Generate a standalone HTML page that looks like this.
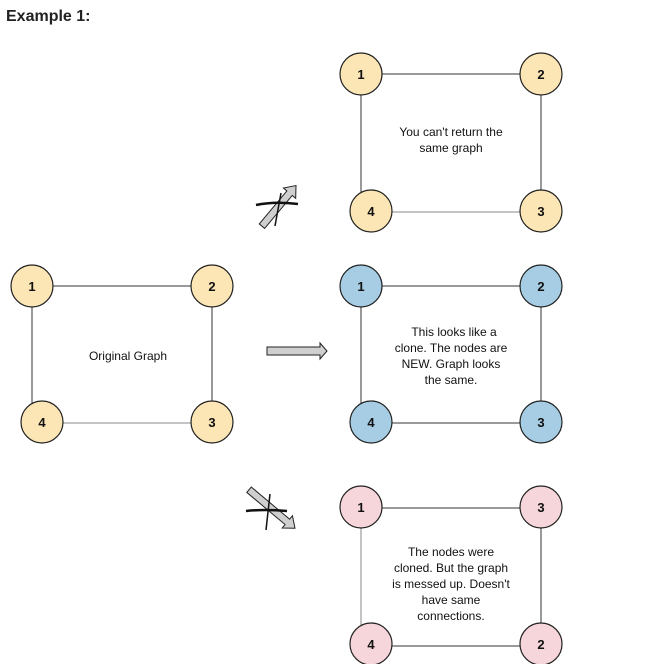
<!DOCTYPE html>
<html><head><meta charset="utf-8"><style>
html,body{margin:0;padding:0;background:#fff;width:665px;height:664px;overflow:hidden}
svg{display:block}
</style></head><body>
<svg width="665" height="664" viewBox="0 0 665 664" xmlns="http://www.w3.org/2000/svg" font-family="Liberation Sans, Arial, sans-serif">
<text x="6" y="21" font-size="16" font-weight="bold" fill="#222">Example 1:</text>
<g stroke="#333" stroke-width="1" fill="none">
<!-- top -->
<line x1="361" y1="74" x2="541" y2="74"/>
<line x1="361" y1="74" x2="361" y2="200"/>
<line x1="541" y1="74" x2="541" y2="211"/>
<line x1="371" y1="212" x2="541" y2="212" stroke="#888"/>
<!-- original -->
<line x1="32" y1="286" x2="212" y2="286"/>
<line x1="32" y1="286" x2="32" y2="410"/>
<line x1="212" y1="286" x2="212" y2="422"/>
<line x1="42" y1="423" x2="212" y2="423" stroke="#888"/>
<!-- middle -->
<line x1="361" y1="286" x2="541" y2="286"/>
<line x1="361" y1="286" x2="361" y2="410"/>
<line x1="541" y1="286" x2="541" y2="422"/>
<line x1="371" y1="423" x2="541" y2="423"/>
<!-- bottom -->
<line x1="361" y1="508" x2="541" y2="508"/>
<line x1="361" y1="508" x2="361" y2="630" stroke="#888"/>
<line x1="541" y1="508" x2="541" y2="644"/>
<line x1="371" y1="646" x2="541" y2="646"/>
</g>
<g stroke="#222" stroke-width="1.2" font-size="13" font-weight="bold" text-anchor="middle">
<g fill="#fde6b6">
<circle cx="361" cy="74" r="21"/><circle cx="541" cy="74" r="21"/>
<circle cx="371" cy="211" r="21"/><circle cx="541" cy="211" r="21"/>
<circle cx="32" cy="286" r="21"/><circle cx="212" cy="286" r="21"/>
<circle cx="42" cy="422" r="21"/><circle cx="212" cy="422" r="21"/>
</g>
<g fill="#a6cde4">
<circle cx="361" cy="286" r="21"/><circle cx="541" cy="286" r="21"/>
<circle cx="371" cy="422" r="21"/><circle cx="541" cy="422" r="21"/>
</g>
<g fill="#f6d6da">
<circle cx="361" cy="507" r="21"/><circle cx="541" cy="507" r="21"/>
<circle cx="371" cy="644" r="21"/><circle cx="541" cy="644" r="21"/>
</g>
</g>
<g font-size="13" font-weight="bold" text-anchor="middle" fill="#111">
<text x="361" y="79">1</text><text x="541" y="79">2</text>
<text x="371" y="216">4</text><text x="541" y="216">3</text>
<text x="32" y="291">1</text><text x="212" y="291">2</text>
<text x="42" y="427">4</text><text x="212" y="427">3</text>
<text x="361" y="291">1</text><text x="541" y="291">2</text>
<text x="371" y="427">4</text><text x="541" y="427">3</text>
<text x="361" y="512">1</text><text x="541" y="512">3</text>
<text x="371" y="649">4</text><text x="541" y="649">2</text>
</g>
<g font-size="12" text-anchor="middle" fill="#111">
<text x="451" y="136">You can't return the</text>
<text x="451" y="152">same graph</text>
<text x="128" y="360">Original Graph</text>
<text x="454" y="336">This looks like a</text>
<text x="451" y="352">clone. The nodes are</text>
<text x="451" y="368">NEW. Graph looks</text>
<text x="451" y="384">the same.</text>
<text x="451" y="556">The nodes were</text>
<text x="451" y="572">cloned. But the graph</text>
<text x="451" y="588">is messed up. Doesn't</text>
<text x="451" y="604">have same</text>
<text x="451" y="620">connections.</text>
</g>
<!-- middle arrow -->
<path d="M267,347 L320,347 L320,343 L327,351 L320,359 L320,355 L267,355 Z" fill="#cfcfcf" stroke="#222" stroke-width="1"/>
<!-- top crossed arrow -->
<g transform="translate(278,207) rotate(-50)">
<path d="M-25,-3.5 L18,-3.5 L18,-8 L28,0 L18,8 L18,3.5 L-25,3.5 Z" fill="#cfcfcf" stroke="#222" stroke-width="1"/>
</g>
<path d="M256,205 Q275,201 298,204" stroke="#111" stroke-width="2.5" fill="none"/>
<path d="M281,193 L275,226" stroke="#111" stroke-width="1.5" fill="none"/>
<!-- bottom crossed arrow -->
<g transform="translate(272,509) rotate(40)">
<path d="M-30,-3.5 L20,-3.5 L20,-8 L30,0 L20,8 L20,3.5 L-30,3.5 Z" fill="#cfcfcf" stroke="#222" stroke-width="1"/>
</g>
<path d="M246,511 Q265,509 287,511" stroke="#111" stroke-width="2.5" fill="none"/>
<path d="M270,494 L266,530" stroke="#111" stroke-width="1.5" fill="none"/>
</svg>
</body></html>
